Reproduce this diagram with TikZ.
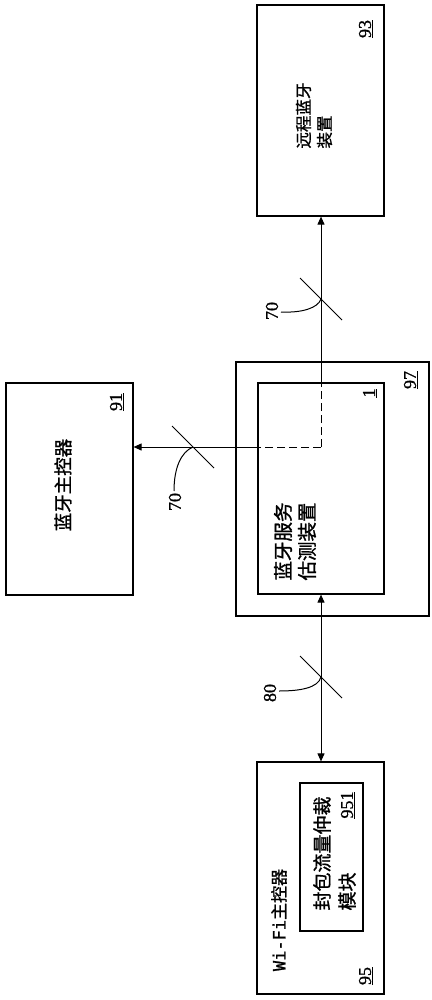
\documentclass[tikz,border=0pt]{standalone}
\usepackage{fontspec}
\setmainfont[FakeBold=1]{Liberation Serif}
\newfontfamily\cjk[FakeBold=1.2]{Noto Sans CJK SC}
\newfontfamily\monof[FakeBold=1.2]{DejaVu Sans Mono}
\usetikzlibrary{arrows.meta}
\begin{document}
\begin{tikzpicture}[x=1pt,y=-1pt,
  box/.style={draw, line width=1.2pt, inner sep=0pt},
  lbl/.style={rotate=90, align=left, inner sep=0pt},
  num/.style={rotate=90, inner sep=0pt, font=\fontsize{18}{20}\selectfont},
  conn/.style={line width=1pt},
  dsh/.style={conn, dash pattern=on 8pt off 4pt},
  tip/.style={-{Triangle[length=8pt,width=7pt]}},
  tips/.style={{Triangle[length=8pt,width=7pt]}-{Triangle[length=8pt,width=7pt]}},
  slash/.style={line width=1pt},
  lead/.style={line width=1pt}
]
\useasboundingbox (0,0) rectangle (431,1000);
% boxes
\node[box, minimum width=127pt, minimum height=211pt] (b93) at (320.5,110.5) {};
\node[box, minimum width=127pt, minimum height=212pt] (b91) at (69.5,489) {};
\node[box, minimum width=193pt, minimum height=254pt] (b97) at (332.5,489) {};
\node[box, minimum width=126pt, minimum height=211pt] (b1) at (321,488.5) {};
\node[box, minimum width=127pt, minimum height=232pt] (b95) at (320.5,878) {};
\node[box, minimum width=63pt, minimum height=148pt] (b951) at (331.5,857) {};
% texts
\node[lbl, font=\cjk\fontsize{16.5}{21}\selectfont] (t93) at (314,115.5) {远程蓝牙\\装置};
\node[lbl, font=\cjk\fontsize{18.5}{22}\selectfont] (t91) at (63,485) {蓝牙主控器};
\node[lbl, font=\cjk\fontsize{19.5}{24}\selectfont] (t1) at (295,541.5) {蓝牙服务\\估测装置};
\node[lbl, font=\cjk\fontsize{17}{22}\selectfont] (t95) at (279,920) {{\monof Wi-Fi}主控器};
\node[lbl, font=\cjk\fontsize{19}{25}\selectfont] (t951) at (334.5,853.5) {封包流量仲裁\\模块};
% numbers
\node[num] (n93) at (366,29) {\underline{93}};
\node[num] (n91) at (117,402) {\underline{91}};
\node[num] (n97) at (411,380) {\underline{97}};
\node[num] (n1) at (370,393) {\underline{1}};
\node[num] (n95) at (366,976) {\underline{95}};
\node[num] (n951) at (348,805) {\underline{951}};
% connectors
\coordinate (jn) at (321,447);
\draw[dsh] (jn) -- (jn |- b1.north);
\draw[conn,tip] (jn |- b1.north) -- (jn |- b93.south);
\draw[dsh] (jn) -- (jn -| b1.west);
\draw[conn,tip] (jn -| b1.west) -- (jn -| b91.east);
\draw[conn,tips] (b1.south) -- (b1.south |- b95.north);
% slashes
\coordinate (s1) at (321,299);
\coordinate (s2) at (193,447);
\coordinate (s3) at (321,677);
\draw[slash] (s1) ++(-21,-21) -- ++(42,42);
\draw[slash] (s2) ++(-21,-21) -- ++(42,42);
\draw[slash] (s3) ++(-21,-21) -- ++(42,42);
% labels and leaders
\node[num] (l70a) at (272,311) {70};
\node[num] (l70b) at (175,502) {70};
\node[num] (l80) at (270,693) {80};
\coordinate (c1) at (281,312);
\coordinate (c2) at (174,491);
\coordinate (c3) at (279,691);
\draw[lead] (c1) .. controls (302,313) and (318,308) .. (s1);
\draw[lead] (c2) .. controls (174,468) and (181,452) .. (s2);
\draw[lead] (c3) .. controls (300,691) and (318,688) .. (s3);
\end{tikzpicture}
\end{document}
